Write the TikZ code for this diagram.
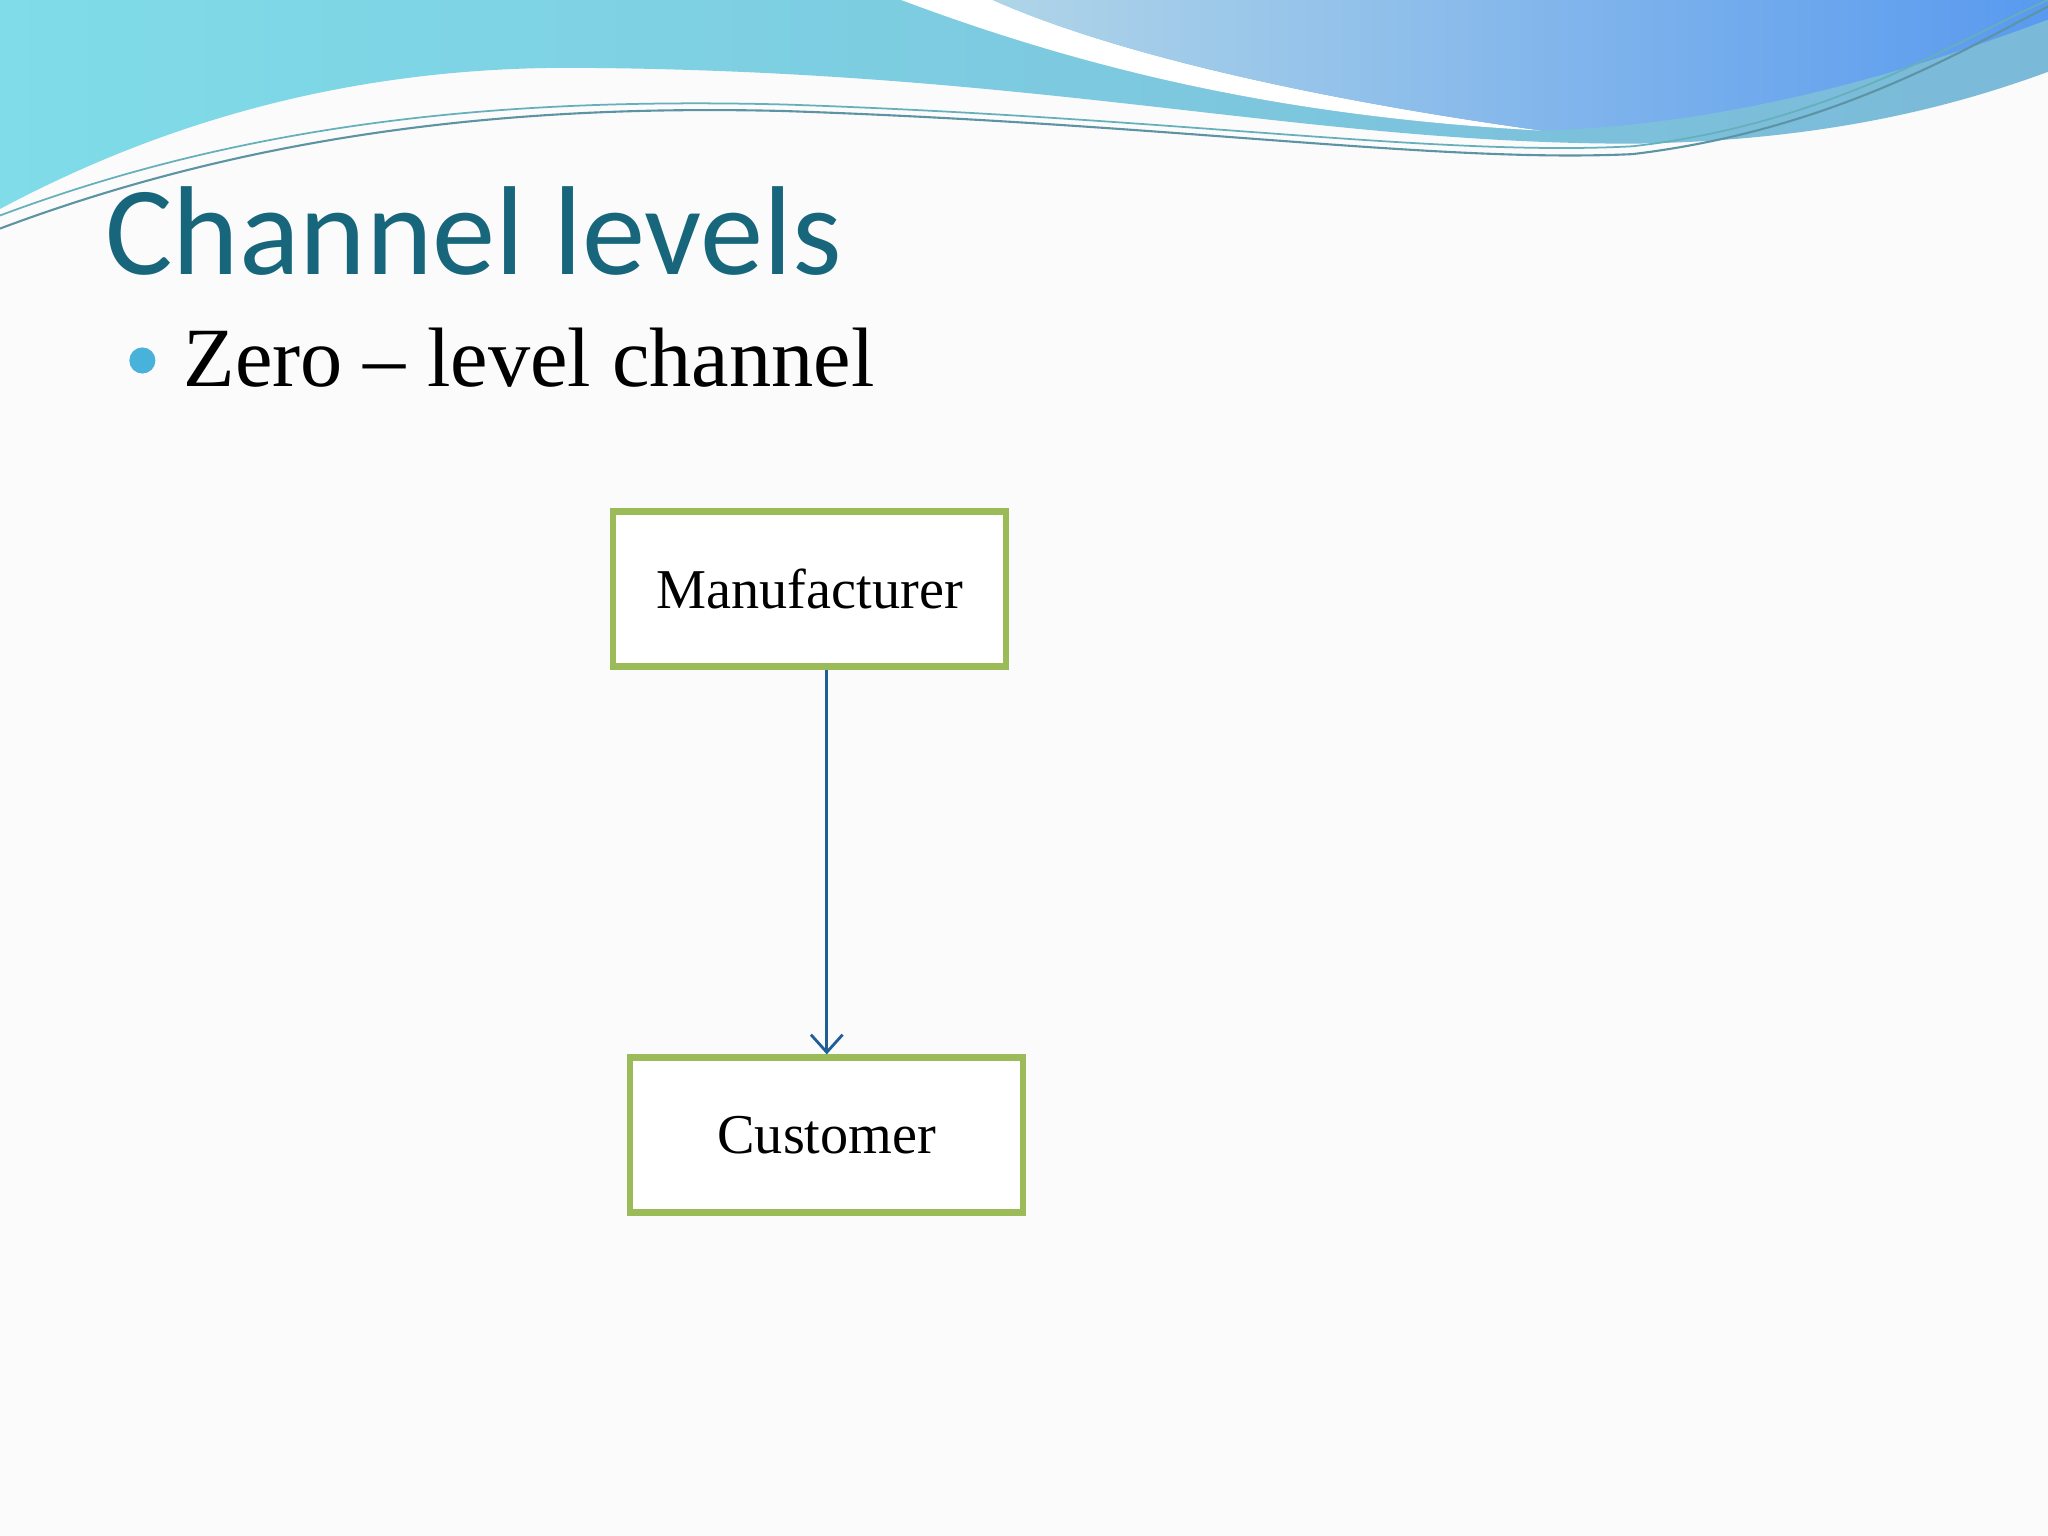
\documentclass[tikz,border=0pt]{standalone}
\usepackage{fontspec}
\setmainfont{Liberation Serif}
\newfontfamily\titlefont{Carlito}
\usetikzlibrary{arrows.meta}
\definecolor{titlec}{HTML}{17667B}
\definecolor{boxc}{HTML}{9BBB59}
\definecolor{arrc}{HTML}{1F5E96}
\definecolor{wavea}{HTML}{7FDCE8}
\definecolor{waveb}{HTML}{7BB9D8}
\begin{document}
\begin{tikzpicture}[x=0.01306cm,y=-0.01306cm,
  flowbox/.style={draw=boxc,line width=1.8pt,fill=white,minimum width=3.93cm,minimum height=1.55cm,font=\fontsize{16}{18}\selectfont}]
\useasboundingbox (0,0) rectangle (1568,1176);
\fill[white!97!gray] (0,0) rectangle (1568,1176);
% top wave
\shade[left color=wavea,right color=waveb]
  (0,0) -- (0,160) .. controls (150,80) and (300,50) .. (450,52)
  .. controls (800,55) and (1000,110) .. (1250,110)
  .. controls (1400,108) and (1500,80) .. (1568,55) -- (1568,0) -- cycle;
\fill[white] (690,0) .. controls (850,60) and (1000,90) .. (1180,100)
  .. controls (1000,75) and (850,40) .. (760,0) -- cycle;
\shade[left color=waveb!60!white,right color=wavea!70!blue] (760,0) .. controls (850,40) and (1000,75) .. (1180,100) .. controls (1350,95) and (1500,40) .. (1568,15) -- (1568,0) -- cycle;
\draw[titlec!70,line width=0.6pt] (0,175) .. controls (200,100) and (400,80) .. (600,85) .. controls (900,95) and (1100,125) .. (1250,118) .. controls (1400,100) and (1500,40) .. (1568,5);
\draw[wavea!80!black,line width=0.5pt] (0,165) .. controls (200,90) and (400,75) .. (600,80) .. controls (900,90) and (1100,120) .. (1250,112) .. controls (1400,95) and (1500,30) .. (1568,0);
% title
\node[anchor=base west,inner sep=0,text=titlec,font=\titlefont\fontsize{36}{40}\selectfont] (title) at (80,210) {Channel levels};
\fill[cyan!70!teal!80] (109,276) circle (10);
\node[anchor=base west,inner sep=0,font=\fontsize{24}{28}\selectfont] (bul) at (140,296) {Zero – level channel};
\node[flowbox] (m) at (620,451) {Manufacturer};
\node[flowbox] (c) at (633,869) {Customer};
\draw[arrc,line width=0.8pt,-{Straight Barb[length=5pt,width=9pt]}] (m.south -| 633,0) -- (c.north);
\end{tikzpicture}
\end{document}
